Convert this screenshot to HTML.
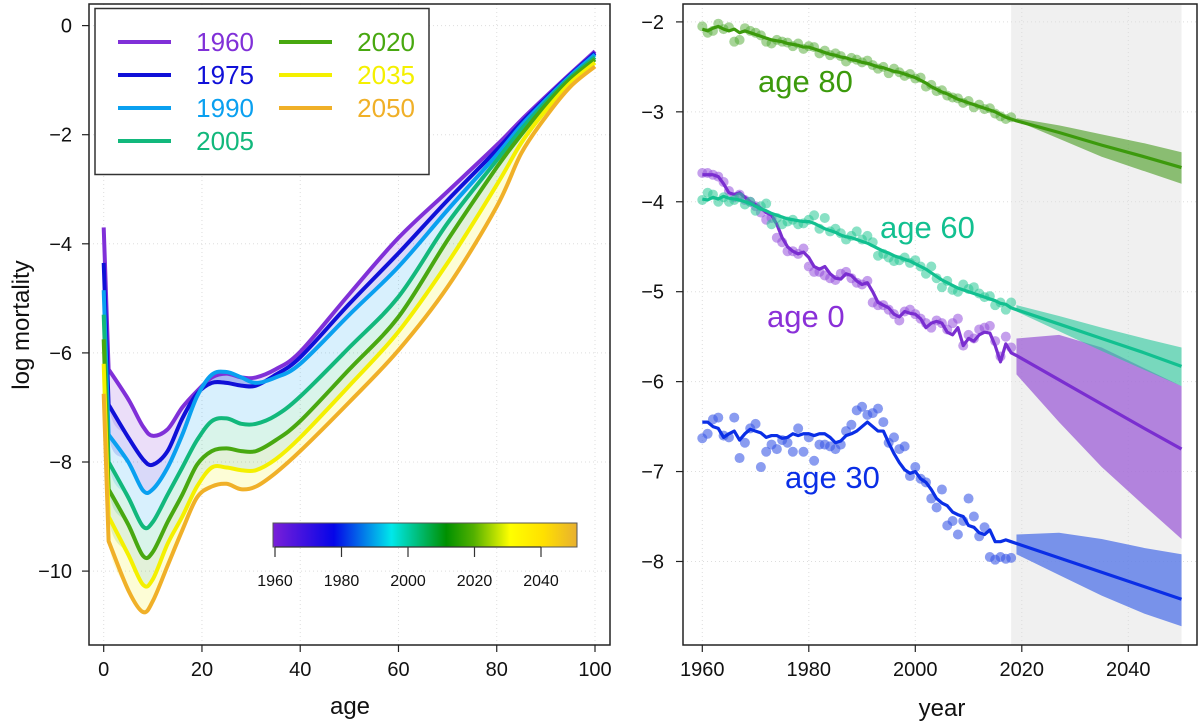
<!DOCTYPE html>
<html><head><meta charset="utf-8">
<style>
html,body{margin:0;padding:0;background:#fff;}
svg{display:block;font-family:"Liberation Sans",Arial,sans-serif;}
</style></head>
<body>
<svg id="chart" width="1200" height="727" viewBox="0 0 1200 727">
<defs>
<linearGradient id="cbar" x1="0" x2="1" y1="0" y2="0">
<stop offset="0" stop-color="#7a1fd8"/><stop offset="0.2" stop-color="#0505e8"/>
<stop offset="0.39" stop-color="#00e8ea"/><stop offset="0.57" stop-color="#009000"/>
<stop offset="0.66" stop-color="#52b000"/><stop offset="0.78" stop-color="#ffff00"/>
<stop offset="0.89" stop-color="#ffe000"/><stop offset="1" stop-color="#e8b030"/>
</linearGradient>
</defs>
<g id="left"></g>
<g id="right"></g>
</svg>
<script>
// ---------- LEFT PANEL DATA ----------
const ages = [0,1,5,8,10,13,16,19,22,25,28,31,35,40,50,60,70,80,85,90,95,100];
const curveYears = [1960,1975,1990,2005,2020,2035,2050];
const curveColors = ["#8030d8","#1010d8","#0aa0f0","#12b87c","#48a810","#f4f000","#f0b028"];
const m1960 = [-3.7,-6.3,-6.85,-7.35,-7.52,-7.4,-7.0,-6.7,-6.45,-6.38,-6.45,-6.45,-6.3,-5.98,-4.92,-3.89,-3.04,-2.19,-1.73,-1.3,-0.88,-0.47];
const m1975 = [-4.35,-6.95,-7.55,-7.95,-8.05,-7.8,-7.2,-6.75,-6.55,-6.55,-6.6,-6.6,-6.4,-6.08,-5.1,-4.17,-3.2,-2.28,-1.78,-1.33,-0.9,-0.5];
const m1990 = [-4.85,-7.5,-8.0,-8.52,-8.5,-8.1,-7.5,-6.8,-6.4,-6.35,-6.45,-6.55,-6.45,-6.2,-5.3,-4.42,-3.38,-2.37,-1.83,-1.36,-0.92,-0.53];
const m2005 = [-5.3,-8.0,-8.65,-9.18,-9.1,-8.6,-8.1,-7.6,-7.25,-7.2,-7.3,-7.3,-7.15,-6.8,-5.9,-4.97,-3.62,-2.47,-1.9,-1.4,-0.95,-0.58];
const m2020 = [-5.75,-8.5,-9.15,-9.72,-9.65,-9.1,-8.6,-8.05,-7.8,-7.75,-7.8,-7.8,-7.6,-7.25,-6.3,-5.34,-3.93,-2.6,-2.0,-1.45,-0.98,-0.62];
const m2035 = [-6.2,-9.0,-9.7,-10.25,-10.15,-9.5,-9.0,-8.45,-8.1,-8.1,-8.15,-8.15,-7.95,-7.55,-6.6,-5.61,-4.35,-2.92,-2.15,-1.55,-1.05,-0.68];
const m2050 = [-6.75,-9.45,-10.35,-10.75,-10.55,-9.9,-9.25,-8.65,-8.45,-8.4,-8.5,-8.45,-8.2,-7.8,-6.9,-5.95,-4.79,-3.32,-2.34,-1.67,-1.12,-0.75];
const curves = [m1960,m1975,m1990,m2005,m2020,m2035,m2050];
const leftXTicks = [0,20,40,60,80,100];
const leftYTicks = [0,-2,-4,-6,-8,-10];
const cbarTicks = [1960,1980,2000,2020,2040];

// ---------- RIGHT PANEL DATA ----------
const years = [];
for (let y=1960;y<=2018;y++) years.push(y);
const fit80 = [-2.08,-2.10,-2.07,-2.05,-2.08,-2.10,-2.08,-2.12,-2.10,-2.12,-2.14,-2.16,-2.18,-2.20,-2.21,-2.22,-2.24,-2.25,-2.26,-2.28,-2.28,-2.30,-2.32,-2.34,-2.36,-2.37,-2.39,-2.40,-2.42,-2.43,-2.45,-2.46,-2.48,-2.50,-2.51,-2.53,-2.55,-2.56,-2.58,-2.60,-2.62,-2.65,-2.68,-2.72,-2.75,-2.78,-2.80,-2.83,-2.86,-2.88,-2.90,-2.92,-2.94,-2.96,-2.98,-3.00,-3.03,-3.06,-3.08];
const obs80 = [-2.05,-2.12,-2.10,-2.02,-2.08,-2.06,-2.22,-2.20,-2.07,-2.10,-2.12,-2.15,-2.22,-2.24,-2.20,-2.22,-2.23,-2.27,-2.24,-2.30,-2.27,-2.28,-2.35,-2.32,-2.37,-2.35,-2.38,-2.44,-2.40,-2.42,-2.45,-2.43,-2.48,-2.52,-2.50,-2.57,-2.52,-2.56,-2.60,-2.58,-2.63,-2.62,-2.72,-2.70,-2.77,-2.76,-2.82,-2.84,-2.85,-2.90,-2.88,-2.95,-2.92,-2.97,-2.96,-3.02,-3.05,-3.08,-3.06];
const fit60 = [-3.97,-3.98,-3.95,-3.97,-3.94,-3.96,-3.97,-3.98,-4.00,-4.02,-4.05,-4.08,-4.10,-4.13,-4.15,-4.17,-4.19,-4.20,-4.21,-4.22,-4.22,-4.24,-4.27,-4.30,-4.32,-4.34,-4.37,-4.39,-4.40,-4.42,-4.44,-4.46,-4.49,-4.52,-4.55,-4.57,-4.60,-4.62,-4.64,-4.66,-4.69,-4.72,-4.75,-4.79,-4.83,-4.87,-4.90,-4.93,-4.96,-4.98,-5.00,-5.02,-5.04,-5.06,-5.08,-5.10,-5.13,-5.14,-5.18];
const obs60 = [-3.98,-3.90,-3.92,-4.00,-3.95,-4.00,-3.98,-3.95,-4.03,-4.00,-4.10,-4.05,-4.02,-4.25,-4.18,-4.25,-4.22,-4.20,-4.25,-4.24,-4.20,-4.15,-4.30,-4.18,-4.33,-4.30,-4.35,-4.42,-4.38,-4.33,-4.42,-4.38,-4.45,-4.60,-4.58,-4.62,-4.66,-4.65,-4.62,-4.68,-4.65,-4.72,-4.80,-4.72,-4.85,-4.95,-4.88,-4.98,-5.00,-4.92,-4.97,-4.95,-5.02,-5.06,-5.05,-5.15,-5.12,-5.20,-5.12];
const fit0 = [-3.70,-3.70,-3.70,-3.72,-3.80,-3.90,-3.92,-3.90,-3.95,-4.00,-4.03,-4.07,-4.12,-4.15,-4.25,-4.40,-4.50,-4.55,-4.58,-4.56,-4.62,-4.72,-4.75,-4.72,-4.80,-4.85,-4.86,-4.80,-4.82,-4.88,-4.92,-4.90,-5.00,-5.12,-5.15,-5.18,-5.25,-5.28,-5.22,-5.24,-5.25,-5.30,-5.40,-5.35,-5.33,-5.35,-5.45,-5.48,-5.40,-5.60,-5.52,-5.55,-5.48,-5.45,-5.46,-5.60,-5.78,-5.58,-5.68];
const obs0 = [-3.68,-3.68,-3.70,-3.72,-3.78,-3.88,-3.95,-3.92,-3.98,-4.00,-4.05,-4.12,-4.20,-4.18,-4.40,-4.45,-4.55,-4.55,-4.58,-4.52,-4.72,-4.78,-4.78,-4.82,-4.85,-4.87,-4.80,-4.78,-4.85,-4.90,-4.92,-4.88,-5.12,-5.15,-5.15,-5.20,-5.25,-5.32,-5.22,-5.20,-5.25,-5.30,-5.35,-5.40,-5.32,-5.35,-5.42,-5.35,-5.30,-5.60,-5.48,-5.52,-5.42,-5.40,-5.38,-5.55,-5.72,-5.50,-5.62];
const fit30 = [-6.45,-6.45,-6.50,-6.52,-6.62,-6.58,-6.55,-6.65,-6.58,-6.53,-6.55,-6.57,-6.62,-6.60,-6.60,-6.63,-6.62,-6.58,-6.60,-6.58,-6.58,-6.60,-6.58,-6.58,-6.62,-6.68,-6.66,-6.60,-6.58,-6.55,-6.50,-6.45,-6.50,-6.55,-6.55,-6.68,-6.80,-6.90,-6.98,-7.02,-7.00,-7.08,-7.12,-7.20,-7.30,-7.35,-7.38,-7.45,-7.48,-7.50,-7.60,-7.62,-7.68,-7.70,-7.65,-7.78,-7.78,-7.76,-7.78];
const obs30 = [-6.63,-6.58,-6.42,-6.40,-6.60,-6.62,-6.40,-6.85,-6.68,-6.52,-6.47,-6.95,-6.78,-6.70,-6.75,-6.65,-6.68,-6.78,-6.52,-6.78,-6.62,-6.88,-6.70,-6.70,-6.72,-6.75,-6.70,-6.55,-6.48,-6.32,-6.28,-6.37,-6.35,-6.30,-6.45,-6.68,-6.62,-6.75,-6.72,-7.05,-6.95,-7.08,-7.12,-7.30,-7.40,-7.20,-7.60,-7.55,-7.70,-7.55,-7.30,-7.50,-7.72,-7.62,-7.95,-7.98,-7.95,-7.97,-7.96];
const fcYears = [2019,2027,2035,2043,2050];
const fcMean80 = [-3.10,-3.23,-3.37,-3.50,-3.62];
const fcUp80 = [-3.07,-3.15,-3.25,-3.35,-3.45];
const fcLo80 = [-3.10,-3.30,-3.50,-3.66,-3.80];
const fcMean60 = [-5.20,-5.36,-5.52,-5.68,-5.83];
const fcUp60 = [-5.15,-5.27,-5.40,-5.52,-5.62];
const fcLo60 = [-5.22,-5.44,-5.66,-5.87,-6.05];
const fcMean0 = [-5.71,-5.98,-6.25,-6.52,-6.75];
const fcUp0 = [-5.52,-5.48,-5.62,-5.85,-6.05];
const fcLo0 = [-5.92,-6.45,-6.95,-7.38,-7.75];
const fcMean30 = [-7.80,-7.96,-8.12,-8.28,-8.42];
const fcUp30 = [-7.70,-7.68,-7.75,-7.85,-7.92];
const fcLo30 = [-7.92,-8.15,-8.38,-8.58,-8.72];
const rightXTicks = [1960,1980,2000,2020,2040];
const rightYTicks = [-2,-3,-4,-5,-6,-7,-8];

const NS="http://www.w3.org/2000/svg";
function mk(parent,tag,attrs,text){const e=document.createElementNS(NS,tag);for(const k in attrs)e.setAttribute(k,attrs[k]);if(text!==undefined)e.textContent=text;parent.appendChild(e);return e;}

const xL=a=>103.7+a*4.913, yL=v=>25.6-v*54.55;
const xR=y=>702.3+(y-1960)*5.325, yR=v=>21.9+(-2-v)*89.93;

function smoothPath(xs,ys){
  let d="M"+xs[0].toFixed(1)+","+ys[0].toFixed(1)+" L"+xs[1].toFixed(1)+","+ys[1].toFixed(1);
  for(let i=1;i<xs.length-1;i++){
    const p0=[xs[Math.max(i-1,1)],ys[Math.max(i-1,1)]],p1=[xs[i],ys[i]],p2=[xs[i+1],ys[i+1]],p3=[xs[Math.min(i+2,xs.length-1)],ys[Math.min(i+2,xs.length-1)]];
    const c1=[p1[0]+(p2[0]-p0[0])/6,p1[1]+(p2[1]-p0[1])/6],c2=[p2[0]-(p3[0]-p1[0])/6,p2[1]-(p3[1]-p1[1])/6];
    d+=" C"+c1[0].toFixed(1)+","+c1[1].toFixed(1)+" "+c2[0].toFixed(1)+","+c2[1].toFixed(1)+" "+p2[0].toFixed(1)+","+p2[1].toFixed(1);
  }
  return d;
}

// ===== LEFT =====
const L=document.getElementById('left');
leftXTicks.forEach(t=>{const g=mk(L,'line',{x1:xL(t),x2:xL(t),y1:4,y2:645,stroke:'#ddd','stroke-dasharray':'1,3'});

});
leftYTicks.forEach(t=>{const g=mk(L,'line',{x1:89,x2:610,y1:yL(t),y2:yL(t),stroke:'#ddd','stroke-dasharray':'1,3'});

});
const xsA=ages.map(xL);
for(let k=0;k<curves.length-1;k++){
  const top=smoothPath(xsA,curves[k].map(yL));
  const botX=xsA.slice().reverse(), botY=curves[k+1].map(yL).reverse();
  const bot=smoothPath(botX,botY).replace(/^M/,'L');
  const p=mk(L,'path',{d:top+" "+bot+" Z",fill:curveColors[k],'fill-opacity':0.16,stroke:'none'});
  
  
}
curves.forEach((c,k)=>{const p=mk(L,'path',{d:smoothPath(xsA,c.map(yL)),fill:'none',stroke:curveColors[k],'stroke-width':4,'stroke-linejoin':'round'});

});
let b=mk(L,'rect',{x:89,y:4,width:521,height:641,fill:'none',stroke:'#222','stroke-width':1.5});

leftXTicks.forEach(t=>{mk(L,'line',{x1:xL(t),x2:xL(t),y1:645,y2:652,stroke:'#222','stroke-width':1.2});
const e=mk(L,'text',{x:xL(t),y:676,'text-anchor':'middle','font-size':20,fill:'#111'},t);

});
leftYTicks.forEach(t=>{mk(L,'line',{x1:82,x2:89,y1:yL(t),y2:yL(t),stroke:'#222','stroke-width':1.2});
const e=mk(L,'text',{x:72,y:yL(t)+7,'text-anchor':'end','font-size':20,fill:'#111'},t===0?'0':'\u2212'+Math.abs(t));

});
let e=mk(L,'text',{x:350,y:714,'text-anchor':'middle','font-size':24,fill:'#111'},'age');

e=mk(L,'text',{x:0,y:0,transform:'translate(29,325) rotate(-90)','text-anchor':'middle','font-size':24,fill:'#111'},'log mortality');

const LG=mk(L,'g',{});

mk(LG,'rect',{x:95,y:8.5,width:334,height:166,fill:'#fff',stroke:'#333','stroke-width':1.5});
curveYears.forEach((yr,k)=>{const col=k<4?0:1,row=k<4?k:k-4;const lx=col?279:118,ty=42+row*33;
const g=mk(LG,'g',{});


mk(g,'line',{x1:lx,x2:lx+53,y1:ty,y2:ty,stroke:curveColors[k],'stroke-width':4});
mk(g,'text',{x:col?415:254,y:ty+9,'text-anchor':'end','font-size':26,fill:curveColors[k]},yr);});
const CB=mk(L,'g',{});

mk(CB,'rect',{x:273,y:523,width:304,height:24,fill:'url(#cbar)',stroke:'#555','stroke-width':1});
const xC=yr=>275+(yr-1960)*3.325;
mk(CB,'line',{x1:xC(1960),x2:xC(2040),y1:547,y2:547,stroke:'#333','stroke-width':1.2});
cbarTicks.forEach(t=>{mk(CB,'line',{x1:xC(t),x2:xC(t),y1:547,y2:557,stroke:'#333','stroke-width':1.2});
const e=mk(CB,'text',{x:xC(t),y:586,'text-anchor':'middle','font-size':16,fill:'#111'},t);

});

// ===== RIGHT =====
const R=document.getElementById('right');
b=mk(R,'rect',{x:xR(2018),y:4,width:xR(2050)-xR(2018),height:641,fill:'#f0f0f0'});

rightXTicks.forEach(t=>{const g=mk(R,'line',{x1:xR(t),x2:xR(t),y1:4,y2:645,stroke:'#ddd','stroke-dasharray':'1,3'});

});
rightYTicks.forEach(t=>{const g=mk(R,'line',{x1:683,x2:1197,y1:yR(t),y2:yR(t),stroke:'#ddd','stroke-dasharray':'1,3'});

});
const series=[
 {name:'age-0',fit:fit0,obs:obs0,m:fcMean0,u:fcUp0,l:fcLo0,line:'#7a2ed0',pt:'rgba(150,80,220,0.55)',band:'rgba(160,100,215,0.78)'},
 {name:'age-30',fit:fit30,obs:obs30,m:fcMean30,u:fcUp30,l:fcLo30,line:'#0a2ee6',pt:'rgba(60,90,230,0.6)',band:'rgba(80,115,232,0.75)'},
 {name:'age-60',fit:fit60,obs:obs60,m:fcMean60,u:fcUp60,l:fcLo60,line:'#12c090',pt:'rgba(40,200,150,0.55)',band:'rgba(40,200,155,0.6)'},
 {name:'age-80',fit:fit80,obs:obs80,m:fcMean80,u:fcUp80,l:fcLo80,line:'#3c9a0c',pt:'rgba(80,170,50,0.5)',band:'rgba(70,155,30,0.6)'}
];
series.forEach(s=>{
  let d="M"+fcYears.map((y,i)=>xR(y)+","+yR(s.u[i])).join(" L")+" L"+fcYears.slice().reverse().map((y,i)=>xR(y)+","+yR(s.l[s.l.length-1-i])).join(" L")+" Z";
  const p=mk(R,'path',{d:d,fill:s.band});
  
  
});
series.forEach(s=>{
  const g=mk(R,'g',{});
  
  
  s.obs.forEach((v,i)=>mk(g,'circle',{cx:xR(years[i]),cy:yR(v),r:5,fill:s.pt}));
  const d="M"+years.map((y,i)=>xR(y)+","+yR(s.fit[i])).join(" L")+" L"+fcYears.map((y,i)=>xR(y)+","+yR(s.m[i])).join(" L");
  const p=mk(R,'path',{d:d,fill:'none',stroke:s.line,'stroke-width':3.2,'stroke-linejoin':'round'});
  
  
});
b=mk(R,'rect',{x:683,y:4,width:514,height:641,fill:'none',stroke:'#222','stroke-width':1.5});

rightXTicks.forEach(t=>{mk(R,'line',{x1:xR(t),x2:xR(t),y1:645,y2:652,stroke:'#222','stroke-width':1.2});
const e=mk(R,'text',{x:xR(t),y:676,'text-anchor':'middle','font-size':20,fill:'#111'},t);

});
rightYTicks.forEach(t=>{mk(R,'line',{x1:676,x2:683,y1:yR(t),y2:yR(t),stroke:'#222','stroke-width':1.2});
const e=mk(R,'text',{x:664,y:yR(t)+7,'text-anchor':'end','font-size':20,fill:'#111'},'\u2212'+Math.abs(t));

});
e=mk(R,'text',{x:942,y:716,'text-anchor':'middle','font-size':24,fill:'#111'},'year');

[['age 80',758,92,'#3c9a0c'],['age 60',880,238,'#12c090'],['age 0',767,327,'#8a30d8'],['age 30',785,488,'#0a2ee6']].forEach(a=>{
const t=mk(R,'text',{x:a[1],y:a[2],'font-size':31,fill:a[3]},a[0]);

});
</script>
</body></html>
